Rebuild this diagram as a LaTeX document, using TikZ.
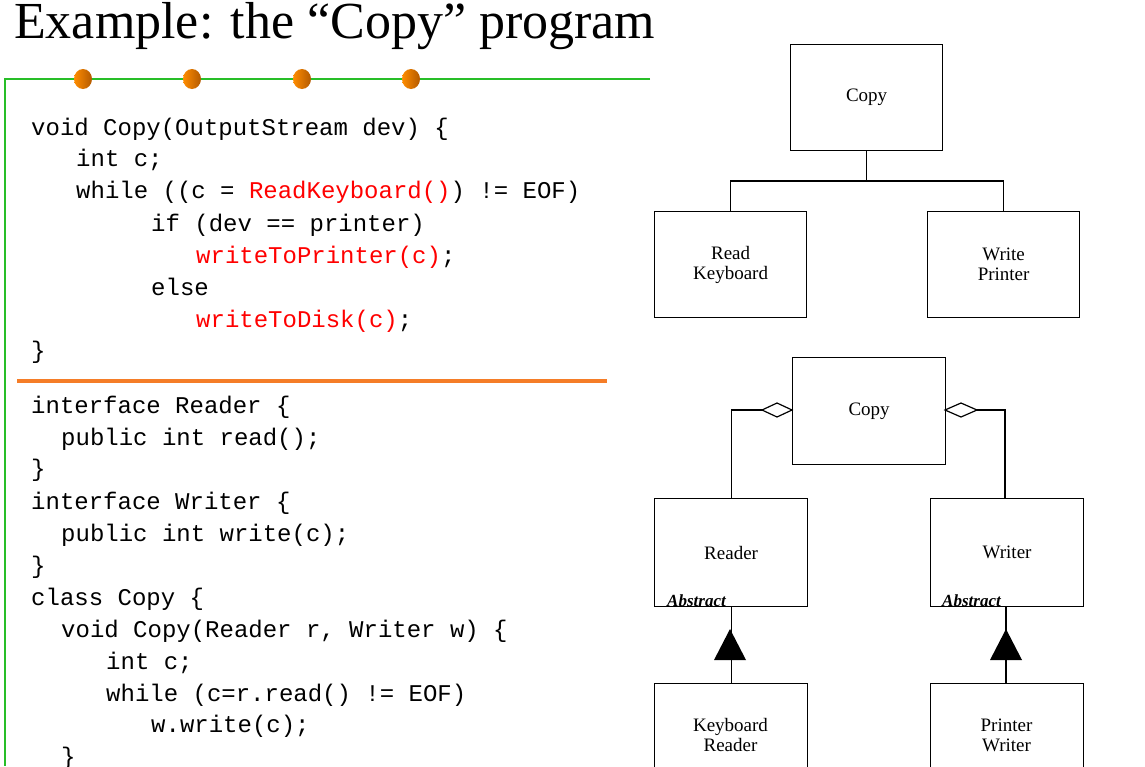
\documentclass[tikz,border=0pt]{standalone}
\usepackage{fontspec}
\usetikzlibrary{shapes.geometric}
\setmainfont{Liberation Serif}
\setmonofont{Liberation Mono}
\begin{document}
\begin{tikzpicture}[x=1pt,y=-1pt,
  code/.style={anchor=base west,inner sep=0,font=\fontsize{24}{28}\ttfamily},
  box/.style={draw,line width=1.2pt,anchor=north west,inner sep=0},
  lbl/.style={font=\fontsize{19}{20}\selectfont,align=center},
  conn/.style={line width=1.2pt},
  dot/.style={ellipse,draw=none,shading=axis,left color=orange!90!yellow,right color=orange!70!black,minimum width=18pt,minimum height=20pt,inner sep=0}]
\useasboundingbox (0,0) rectangle (1145,766);
\definecolor{grn}{RGB}{40,190,40}
\definecolor{org}{RGB}{245,125,40}
\node[anchor=base west,inner sep=0,font=\fontsize{52}{56}\selectfont] (title) at (14,38) {Example: the “Copy” program};
\draw[grn,line width=1.2pt] (650,79) -- (5,79) -- (5,766);
\foreach \x/\n in {83/a,192/b,302/c,411/d} \node[dot] (d\n) at (\x,79) {};
\draw[org,line width=4pt] (17,381) -- (607,381);
\def\cx#1{31+15*#1}
\foreach \y/\i/\t [count=\k] in {
 135/0/{void Copy(OutputStream dev) \{},
 166/3/{int c;},
 263/11/{\textcolor{red}{writeToPrinter(c)};},
 231/8/{if (dev == printer)},
 295/8/{else},
 327/11/{\textcolor{red}{writeToDisk(c)};},
 358/0/{\}},
 413/0/{interface Reader \{},
 445/2/{public int read();},
 476/0/{\}},
 509/0/{interface Writer \{},
 541/2/{public int write(c);},
 573/0/{\}},
 605/0/{class Copy \{},
 637/2/{void Copy(Reader r, Writer w) \{},
 669/5/{int c;},
 701/5/{while (c=r.read() != EOF)},
 732/8/{w.write(c);},
 764/2/{\}}}
 \node[code] (c\k) at ({\cx{\i}},\y) {\t};
\node[code] (cw) at ({\cx{3}},198) {while ((c = \textcolor{red}{ReadKeyboard()}) != EOF)};
% top diagram
\node[box,minimum width=152pt,minimum height=106pt] (copy1) at (790,44) {};
\node[lbl] at (copy1.center) {Copy};
\node[box,minimum width=152pt,minimum height=106pt] (rk) at (654,211) {};
\node[lbl] at (rk.center) {Read\\Keyboard};
\node[box,minimum width=152pt,minimum height=106pt] (wp) at (927,211) {};
\node[lbl] at (wp.center) {Write\\Printer};
\coordinate (j) at (copy1.south |- 0,181);
\draw[conn] (copy1.south) -- (j);
\draw[conn] (j) -| (rk.north);
\draw[conn] (j) -| (wp.north);
% bottom diagram
\node[box,minimum width=153pt,minimum height=107pt] (copy2) at (792,357) {};
\node[lbl] at (copy2.center) {Copy};
\node[box,minimum width=153pt,minimum height=108pt] (rd) at (654,498) {};
\node[lbl] at (rd.center) {Reader};
\node[anchor=base west,inner sep=0,font=\fontsize{17}{18}\selectfont\bfseries\itshape] at (667,606) {Abstract};
\node[box,minimum width=153pt,minimum height=108pt] (wr) at (930,498) {};
\node[lbl] at (wr.center) {Writer};
\node[anchor=base west,inner sep=0,font=\fontsize{17}{18}\selectfont\bfseries\itshape] at (942,606) {Abstract};
\node[box,minimum width=153pt,minimum height=100pt] (kr) at (654,683) {};
\node[lbl] at (730.5,735) {Keyboard\\Reader};
\node[box,minimum width=153pt,minimum height=100pt] (pw) at (930,683) {};
\node[lbl] at (1006.5,735) {Printer\\Writer};
% aggregation
\draw[conn,fill=white] (792,410) -- (777,403) -- (762,410) -- (777,417) -- cycle;
\draw[conn] (762,410) -| (rd.north);
\draw[conn,fill=white] (945,410) -- (961,403) -- (977,410) -- (961,417) -- cycle;
\draw[conn] (977,410) -| (1005,498);
% inheritance
\draw[conn] (kr.north) -- (rd.south);
\fill (730,629) -- (746,660) -- (714,660) -- cycle;
\draw[conn] (1006,683) -- (1006,606);
\fill (1006,629) -- (1022,660) -- (990,660) -- cycle;
\end{tikzpicture}
\end{document}
